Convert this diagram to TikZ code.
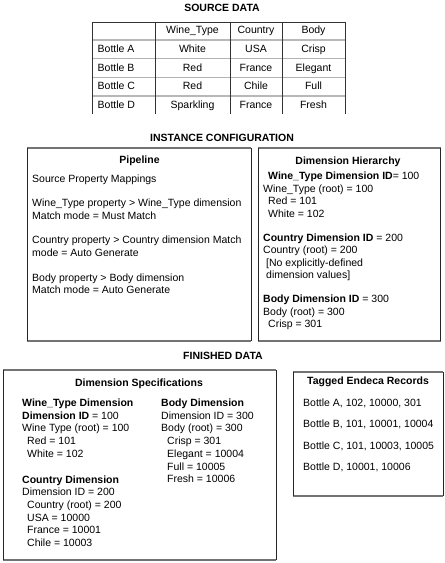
\documentclass[tikz,border=0pt]{standalone}
\usepackage{fontspec}
\setmainfont{Liberation Sans}
\begin{document}
\begin{tikzpicture}[x=1pt,y=-1pt,
  txt/.style={inner sep=0pt, anchor=base west, font=\fontsize{10.5}{12.5}\selectfont},
  ctr/.style={inner sep=0pt, anchor=base, font=\fontsize{10.5}{12.5}\selectfont},
  ttl/.style={inner sep=0pt, anchor=base, font=\fontsize{10.5}{12.5}\selectfont\bfseries},
  hline/.style={draw=black!55, line width=1.2pt},
  vline/.style={draw=black!85, line width=0.9pt},
  rowthin/.style={draw=black!30, line width=0.8pt},
  rowthick/.style={draw=black!28, line width=2.4pt},
  tabv/.style={draw=black!80, line width=0.8pt}
]
\useasboundingbox (0,0) rectangle (445,563);
\fill[white] (0,0) rectangle (445,563);

% ---------- SOURCE DATA ----------
\node[ttl] (t1) at (222,11) {SOURCE DATA};
\draw[rowthick] (92.5,40) -- (345,40);
\draw[rowthin] (92.5,58.5) -- (345,58.5);
\draw[rowthin] (92.5,77.3) -- (345,77.3);
\draw[rowthick] (92.5,96) -- (345,96);
\draw[tabv] (92.5,22) -- (345,22);
\foreach \xx in {92.5,155,230,282,345} \draw[tabv] (\xx,22) -- (\xx,114);
\node[ctr] (h2) at (192.5,33.5) {Wine\_Type};
\node[ctr] (h3) at (256,33.5) {Country};
\node[ctr] (h4) at (313.5,33.5) {Body};
\node[txt] (ra) at (97.5,52) {Bottle A};
\node[ctr] (ra2) at (192.5,52) {White};
\node[ctr] (ra3) at (256,52) {USA};
\node[ctr] (ra4) at (313.5,52) {Crisp};
\node[txt] (rb) at (97.5,71) {Bottle B};
\node[ctr] (rb2) at (192.5,71) {Red};
\node[ctr] (rb3) at (256,71) {France};
\node[ctr] (rb4) at (313.5,71) {Elegant};
\node[txt] (rc) at (97.5,89.5) {Bottle C};
\node[ctr] (rc2) at (192.5,89.5) {Red};
\node[ctr] (rc3) at (256,89.5) {Chile};
\node[ctr] (rc4) at (313.5,89.5) {Full};
\node[txt] (rd) at (97.5,108) {Bottle D};
\node[ctr] (rd2) at (192.5,108) {Sparkling};
\node[ctr] (rd3) at (256,108) {France};
\node[ctr] (rd4) at (313.5,108) {Fresh};

% ---------- INSTANCE CONFIGURATION ----------
\node[ttl] (t2) at (222,141.5) {INSTANCE CONFIGURATION};

% Pipeline box
\draw[hline] (27,148) -- (251,148) (27,341) -- (251,341);
\draw[vline] (27,148) -- (27,341) (251,148) -- (251,341);
\node[ttl] (pt) at (139.5,163) {Pipeline};
\node[txt] (p1) at (32,182) {Source Property Mappings};
\node[txt] (p2) at (32,206.5) {Wine\_Type property > Wine\_Type dimension};
\node[txt] (p3) at (32,219) {Match mode = Must Match};
\node[txt] (p4) at (32,243.5) {Country property > Country dimension Match};
\node[txt] (p5) at (32,256) {mode = Auto Generate};
\node[txt] (p6) at (32,281) {Body property > Body dimension};
\node[txt] (p7) at (32,293.5) {Match mode = Auto Generate};

% Dimension Hierarchy box
\draw[hline] (258,148) -- (440.5,148) (258,341) -- (440.5,341);
\draw[vline] (258,148) -- (258,341) (440.5,148) -- (440.5,341);
\node[ttl] (ht) at (348,164.5) {Dimension Hierarchy};
\node[txt] (d1) at (268,179.5) {\textbf{Wine\_Type Dimension ID}= 100};
\node[txt] (d2) at (263,192) {Wine\_Type (root) = 100};
\node[txt] (d3) at (268,204.5) {Red = 101};
\node[txt] (d4) at (268,217) {White = 102};
\node[txt] (d5) at (263,241) {\textbf{Country Dimension ID} = 200};
\node[txt] (d6) at (263,253.5) {Country (root) = 200};
\node[txt] (d7) at (266,266) {[No explicitly-defined};
\node[txt] (d8) at (266,278.5) {dimension values]};
\node[txt] (d9) at (263,302.5) {\textbf{Body Dimension ID} = 300};
\node[txt] (d10) at (263,315) {Body (root) = 300};
\node[txt] (d11) at (268,327.5) {Crisp = 301};

% ---------- FINISHED DATA ----------
\node[ttl] (t3) at (223,359) {FINISHED DATA};

% Dimension Specifications box
\draw[hline] (3,370) -- (276,370) (3,560) -- (276,560);
\draw[vline] (3,370) -- (3,560) (276,370) -- (276,560);
\node[ttl] (st) at (139,386.5) {Dimension Specifications};
\node[txt] (s1) at (22,406.5) {\textbf{Wine\_Type Dimension}};
\node[txt] (s2) at (22,419.2) {\textbf{Dimension ID} = 100};
\node[txt] (s3) at (22,431.9) {Wine Type (root) = 100};
\node[txt] (s4) at (27,444.6) {Red = 101};
\node[txt] (s5) at (27,457.3) {White = 102};
\node[txt] (s6) at (22,483) {\textbf{Country Dimension}};
\node[txt] (s7) at (22,495.7) {Dimension ID = 200};
\node[txt] (s8) at (27,508.4) {Country (root) = 200};
\node[txt] (s9) at (27,521.1) {USA = 10000};
\node[txt] (s10) at (27,533.8) {France = 10001};
\node[txt] (s11) at (27,546.5) {Chile = 10003};
\node[txt] (b1) at (161,406.5) {\textbf{Body Dimension}};
\node[txt] (b2) at (161,419.2) {Dimension ID = 300};
\node[txt] (b3) at (161,431.9) {Body (root) = 300};
\node[txt] (b4) at (167,444.6) {Crisp = 301};
\node[txt] (b5) at (167,457.3) {Elegant = 10004};
\node[txt] (b6) at (167,470) {Full = 10005};
\node[txt] (b7) at (167,482.7) {Fresh = 10006};

% Tagged Endeca Records box
\draw[hline] (293,372) -- (443,372) (293,496) -- (443,496);
\draw[vline] (293,372) -- (293,496) (443,372) -- (443,496);
\node[ttl] (et) at (368,384) {Tagged Endeca Records};
\node[txt] (e1) at (303,406) {Bottle A, 102, 10000, 301};
\node[txt] (e2) at (303,427.5) {Bottle B, 101, 10001, 10004};
\node[txt] (e3) at (303,449.5) {Bottle C, 101, 10003, 10005};
\node[txt] (e4) at (303,470.5) {Bottle D, 10001, 10006};
\end{tikzpicture}
\end{document}
